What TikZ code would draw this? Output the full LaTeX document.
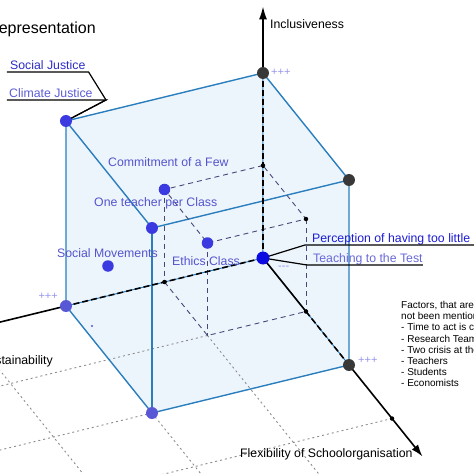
\documentclass[tikz,border=0pt]{standalone}
\usepackage{fontspec}
\setmainfont{Liberation Sans}
\usetikzlibrary{arrows.meta,positioning}

\definecolor{edgeblue}{RGB}{42,126,190}
\definecolor{cubefill}{RGB}{237,245,252}
\definecolor{dashgrey}{RGB}{72,72,120}
\definecolor{dotblue}{RGB}{58,58,224}
\definecolor{paleblue}{RGB}{88,88,214}
\definecolor{originblue}{RGB}{12,12,226}
\definecolor{sjblue}{RGB}{45,45,200}
\definecolor{cjblue}{RGB}{92,92,212}
\definecolor{ptblue}{RGB}{84,84,206}
\definecolor{pcblue}{RGB}{28,28,212}
\definecolor{ttblue}{RGB}{104,104,216}
\definecolor{plusblue}{RGB}{150,150,236}

\tikzset{
  cubeedge/.style={draw=edgeblue, line width=1.4pt},
  hiddenedge/.style={draw=edgeblue, line width=1pt},
  innerdash/.style={draw=dashgrey, line width=0.9pt, dash pattern=on 5pt off 4pt},
  gridline/.style={draw=black!45, line width=0.9pt, dash pattern=on 2pt off 3pt},
  axisline/.style={draw=black, line width=1.6pt},
  axisdash/.style={axisline, dash pattern=on 6pt off 3pt},
  leader/.style={draw=black, line width=1.2pt},
  bead/.style={circle, inner sep=0pt, minimum size=12pt, fill=#1},
  bead/.default=dotblue,
  darkbead/.style={bead=black!78},
  smalldot/.style={circle, inner sep=0pt, minimum size=4.5pt, fill=black},
  lbl/.style={inner sep=0pt, font=\fontsize{12.3}{14}\selectfont},
  plusmark/.style={inner sep=0pt, text=plusblue, font=\fontsize{11}{13}\selectfont},
}

\begin{document}
\begin{tikzpicture}[x={(86pt,-107pt)},y={(-197pt,-48pt)},z={(0pt,185pt)}]
  \useasboundingbox (-263pt,-216pt) rectangle (211pt,258pt);

  % corners of the cube and of the half cube
  \coordinate (o) at (0,0,0);
  \coordinate (bl) at (0,1,0);
  \coordinate (br) at (1,0,0);
  \coordinate (bf) at (1,1,0);
  \coordinate (tb) at (0,0,1);
  \coordinate (tl) at (0,1,1);
  \coordinate (tr) at (1,0,1);
  \coordinate (tf) at (1,1,1);
  \coordinate (hu) at (0,0,.5);
  \coordinate (hl) at (0,.5,0);
  \coordinate (hr) at (.5,0,0);
  \coordinate (hf) at (.5,.5,0);
  \coordinate (hlu) at (0,.5,.5);
  \coordinate (hru) at (.5,0,.5);
  \coordinate (hfu) at (.5,.5,.5);
  \coordinate (utip) at (0,0,1.36);
  \coordinate (rtip) at (1.855,0,0);
  \coordinate (ltip) at (0,1.4,0);
  \coordinate (r15) at (1.5,0,0);

  \fill[cubefill] (tl) -- (tb) -- (tr) -- (br) -- (bf) -- (bl) -- cycle;

  % floor grid
  \begin{scope}[gridline]
    \draw (hf) -- (.5,2,0);
    \draw (bf) -- (1,2,0);
    \draw (r15) -- (1.5,2,0);
    \draw (hf) -- (2,.5,0);
    \draw (bf) -- (2,1,0);
    \draw (0,1.5,0) -- (2,1.5,0);
  \end{scope}

  \draw[hiddenedge] (tb) -- (o) -- (bl) (o) -- (br);
  \draw[cubeedge] (tl) -- (tb) -- (tr) -- (tf) -- cycle;
  \draw[cubeedge] (tl) -- (bl) -- (bf) -- (br) -- (tr);
  \draw[cubeedge] (tf) -- (bf);

  \begin{scope}[innerdash]
    \draw (hu) -- (hlu) -- (hfu) -- (hru) -- cycle;
    \draw (hlu) -- (hl) (hfu) -- (hf) (hru) -- (hr);
    \draw (hl) -- (hf) -- (hr);
  \end{scope}

  % axes
  \draw[axisdash] (o) -- (tb);
  \draw[axisdash] (o) -- (bl);
  \draw[axisline] (o) -- (hr);
  \draw[axisdash] (hr) -- (br);
  \draw[axisline,-{Latex[length=13pt,width=8pt]}] (tb) -- (utip);
  \draw[axisline,-{Latex[length=12pt,width=8pt]}] (br) -- (rtip);
  \draw[axisline] (bl) -- (ltip);

  \node[lbl,anchor=base west] (incl) at (7pt,229pt) {Inclusiveness};
  \node[lbl,anchor=base east] (sust) at (-210pt,-106pt) {Sustainability};
  \node[lbl,anchor=base west] (flex) at (-23pt,-199pt) {Flexibility of Schoolorganisation};
  \node[inner sep=0pt,anchor=base east,font=\fontsize{16}{18}\selectfont] (repr) at (-167pt,224pt) {Representation};

  % labels with leaders
  \node[lbl,anchor=base west,text=sjblue] (sj) at (-253pt,188pt) {Social Justice};
  \node[lbl,anchor=base west,text=cjblue] (cj) at (-254pt,160pt) {Climate Justice};
  \coordinate (jbend) at (-157pt,158pt);
  \draw[leader] ([xshift=-3pt,yshift=-2pt]sj.base west) -- ([xshift=3pt,yshift=-2pt]sj.base east) -- (jbend) -- (tl);
  \draw[leader] ([xshift=-2pt,yshift=-2pt]cj.base west) -- (jbend) -- (tl);

  \node[lbl,anchor=base west,text=pcblue] (pc) at (49pt,16pt) {Perception of having too little};
  \node[lbl,anchor=base west,text=ttblue] (tt) at (50pt,-4pt) {Teaching to the Test};
  \coordinate (pcbend) at (42pt,13pt);
  \coordinate (ttbend) at (44pt,-7pt);
  \draw[leader] (o) -- (pcbend) -- ([xshift=20pt,yshift=-3pt]pc.base east);
  \draw[leader] (o) -- (ttbend) -- ([yshift=-3pt]tt.base east);

  \node[lbl,anchor=base west,text=ptblue] (cf) at (-155pt,91pt) {Commitment of a Few};
  \node[lbl,anchor=base west,text=ptblue] (ot) at (-169pt,51pt) {One teacher per Class};
  \node[lbl,anchor=base west,text=ptblue] (sm) at (-206pt,1pt) {Social Movements};
  \node[lbl,anchor=base west,text=ptblue] (ec) at (-91pt,-7pt) {Ethics Class};

  \node[plusmark,anchor=west] (ptop) at (8pt,186pt) {+++};
  \node[plusmark,anchor=east] (pleft) at (-205pt,-38pt) {+++};
  \node[plusmark,anchor=west] (pright) at (95pt,-102pt) {+++};
  \node[plusmark,anchor=west] (pmin) at (15pt,-10pt) {-{}-{}-};

  \node[inner sep=0pt,anchor=north west,align=left,font=\fontsize{10}{11.2}\selectfont] (facts) at (138pt,-43pt)
    {Factors, that are\\not been mentioned\\- Time to act is c\\- Research Team\\- Two crisis at the\\- Teachers\\- Students\\- Economists};

  % points
  \node[bead] (tldot) at (tl) {};
  \node[bead] (tfdot) at (tf) {};
  \node[bead=paleblue] (bldot) at (bl) {};
  \node[bead=paleblue] (bfdot) at (bf) {};
  \node[darkbead] (tbdot) at (tb) {};
  \node[darkbead] (trdot) at (tr) {};
  \node[darkbead] (brdot) at (br) {};
  \node[bead=originblue,minimum size=13pt] (odot) at (o) {};
  \node[bead,minimum size=11.5pt] (cfdot) at (hlu) {};
  \node[bead,minimum size=11.5pt] (ecdot) at (hfu) {};
  \node[bead,minimum size=11.5pt] (smdot) at (-155pt,-8pt) {};
  \node[circle,inner sep=0pt,minimum size=2.2pt,fill=ptblue] (speck) at (-171pt,-68pt) {};
  \node[smalldot] at (hu) {};
  \node[smalldot] at (hl) {};
  \node[smalldot] at (hru) {};
  \node[smalldot] at (hr) {};
  \node[smalldot] at (r15) {};
\end{tikzpicture}
\end{document}
